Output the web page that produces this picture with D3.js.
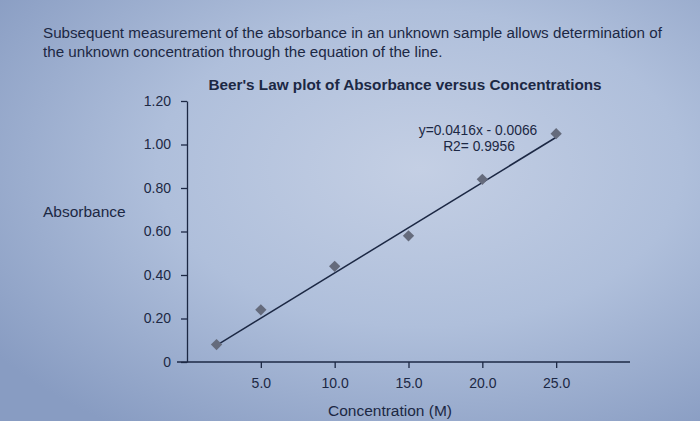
<!DOCTYPE html>
<html>
<head>
<meta charset="utf-8">
<script src="https://cdn.jsdelivr.net/npm/d3@7"></script>
<style>
  html, body { margin: 0; padding: 0; }
  body { width: 700px; height: 421px; overflow: hidden; }
  svg { display: block; font-family: "Liberation Sans", Arial, sans-serif; }
</style>
</head>
<body>
<div id="chart"></div>
<script>
// data
const concentrations = [2, 5, 10, 15, 20, 25];
const absorbances = [0.08, 0.24, 0.44, 0.58, 0.84, 1.05];
const yTicks = [0, 0.2, 0.4, 0.6, 0.8, 1.0, 1.2];
const yTickLabels = ["0", "0.20", "0.40", "0.60", "0.80", "1.00", "1.20"];
const xTicks = [5, 10, 15, 20, 25];
const xTickLabels = ["5.0", "10.0", "15.0", "20.0", "25.0"];
const fit = { slope: 0.0416, intercept: -0.0066, r2: "0.9956" };
const introLines = [
  "Subsequent measurement of the absorbance in an unknown sample allows determination of",
  "the unknown concentration through the equation of the line."
];

const W = 700, H = 421;
const ink = "#1c2844";

const svg = d3.select("#chart").append("svg")
  .attr("width", W).attr("height", H);

// photo-like paper background
const defs = svg.append("defs");
const grad = defs.append("radialGradient").attr("id", "paper")
  .attr("cx", "0.6").attr("cy", "0.4").attr("r", "0.75");
grad.append("stop").attr("offset", "0%").attr("stop-color", "#c4cfe4");
grad.append("stop").attr("offset", "50%").attr("stop-color", "#afbfdb");
grad.append("stop").attr("offset", "100%").attr("stop-color", "#889cc2");
svg.append("rect").attr("width", W).attr("height", H).attr("fill", "url(#paper)");

// intro text
svg.selectAll(".intro")
  .data(introLines)
  .enter().append("text")
  .attr("class", "intro")
  .attr("x", 43)
  .attr("y", (d, i) => 38 + i * 19)
  .attr("font-size", 15.2)
  .attr("fill", ink)
  .text(d => d);

// scales
const x = d3.scaleLinear().domain([0, 30]).range([187, 630]);
const y = d3.scaleLinear().domain([0, 1.2]).range([362, 101]);

// title
svg.append("text")
  .attr("x", 405).attr("y", 90)
  .attr("text-anchor", "middle")
  .attr("font-size", 15.3)
  .attr("font-weight", "bold")
  .attr("fill", ink)
  .text("Beer's Law plot of Absorbance versus Concentrations");

// y axis
const yAxis = svg.append("g")
  .attr("transform", `translate(${x(0)},0)`)
  .call(d3.axisLeft(y).tickValues(yTicks)
    .tickFormat((d, i) => yTickLabels[i])
    .tickSize(6).tickSizeOuter(0).tickPadding(10));

// x axis
const xAxis = svg.append("g")
  .attr("transform", `translate(0,${y(0)})`)
  .call(d3.axisBottom(x).tickValues(xTicks)
    .tickFormat((d, i) => xTickLabels[i])
    .tickSize(6).tickSizeOuter(0).tickPadding(10));

xAxis.select(".domain").attr("d", `M${x(0) - 10},0H${x(30)}`);

[yAxis, xAxis].forEach(g => {
  g.attr("font-size", null).attr("font-family", null);
  g.select(".domain").attr("stroke", ink).attr("stroke-width", 1.3);
  g.selectAll(".tick line").attr("stroke", ink).attr("stroke-width", 1.3);
  g.selectAll(".tick text")
    .attr("fill", ink)
    .style("font-size", "14px");
});

// axis titles
svg.append("text")
  .attr("x", 43).attr("y", 217)
  .attr("font-size", 15.5)
  .attr("fill", ink)
  .text("Absorbance");

svg.append("text")
  .attr("x", 390).attr("y", 416)
  .attr("text-anchor", "middle")
  .attr("font-size", 15.5)
  .attr("fill", ink)
  .text("Concentration (M)");

// trend line
const xMin = d3.min(concentrations), xMax = d3.max(concentrations);
svg.append("line")
  .attr("x1", x(xMin)).attr("y1", y(fit.slope * xMin + fit.intercept))
  .attr("x2", x(xMax)).attr("y2", y(fit.slope * xMax + fit.intercept))
  .attr("stroke", ink)
  .attr("stroke-width", 1.5);

// data markers (diamonds)
const points = concentrations.map((c, i) => ({ c, a: absorbances[i] }));
svg.selectAll(".pt")
  .data(points)
  .enter().append("path")
  .attr("class", "pt")
  .attr("d", d3.symbol().type(d3.symbolSquare).size(64))
  .attr("transform", d => `translate(${x(d.c)},${y(d.a)}) rotate(45)`)
  .attr("fill", "#656b7c");

// fit equation
svg.append("text")
  .attr("x", 478).attr("y", 135)
  .attr("text-anchor", "middle")
  .attr("font-size", 13.8)
  .attr("fill", ink)
  .text(`y=${fit.slope}x - ${Math.abs(fit.intercept)}`);

svg.append("text")
  .attr("x", 479).attr("y", 151)
  .attr("text-anchor", "middle")
  .attr("font-size", 13.8)
  .attr("fill", ink)
  .text(`R2= ${fit.r2}`);
</script>
</body>
</html>
